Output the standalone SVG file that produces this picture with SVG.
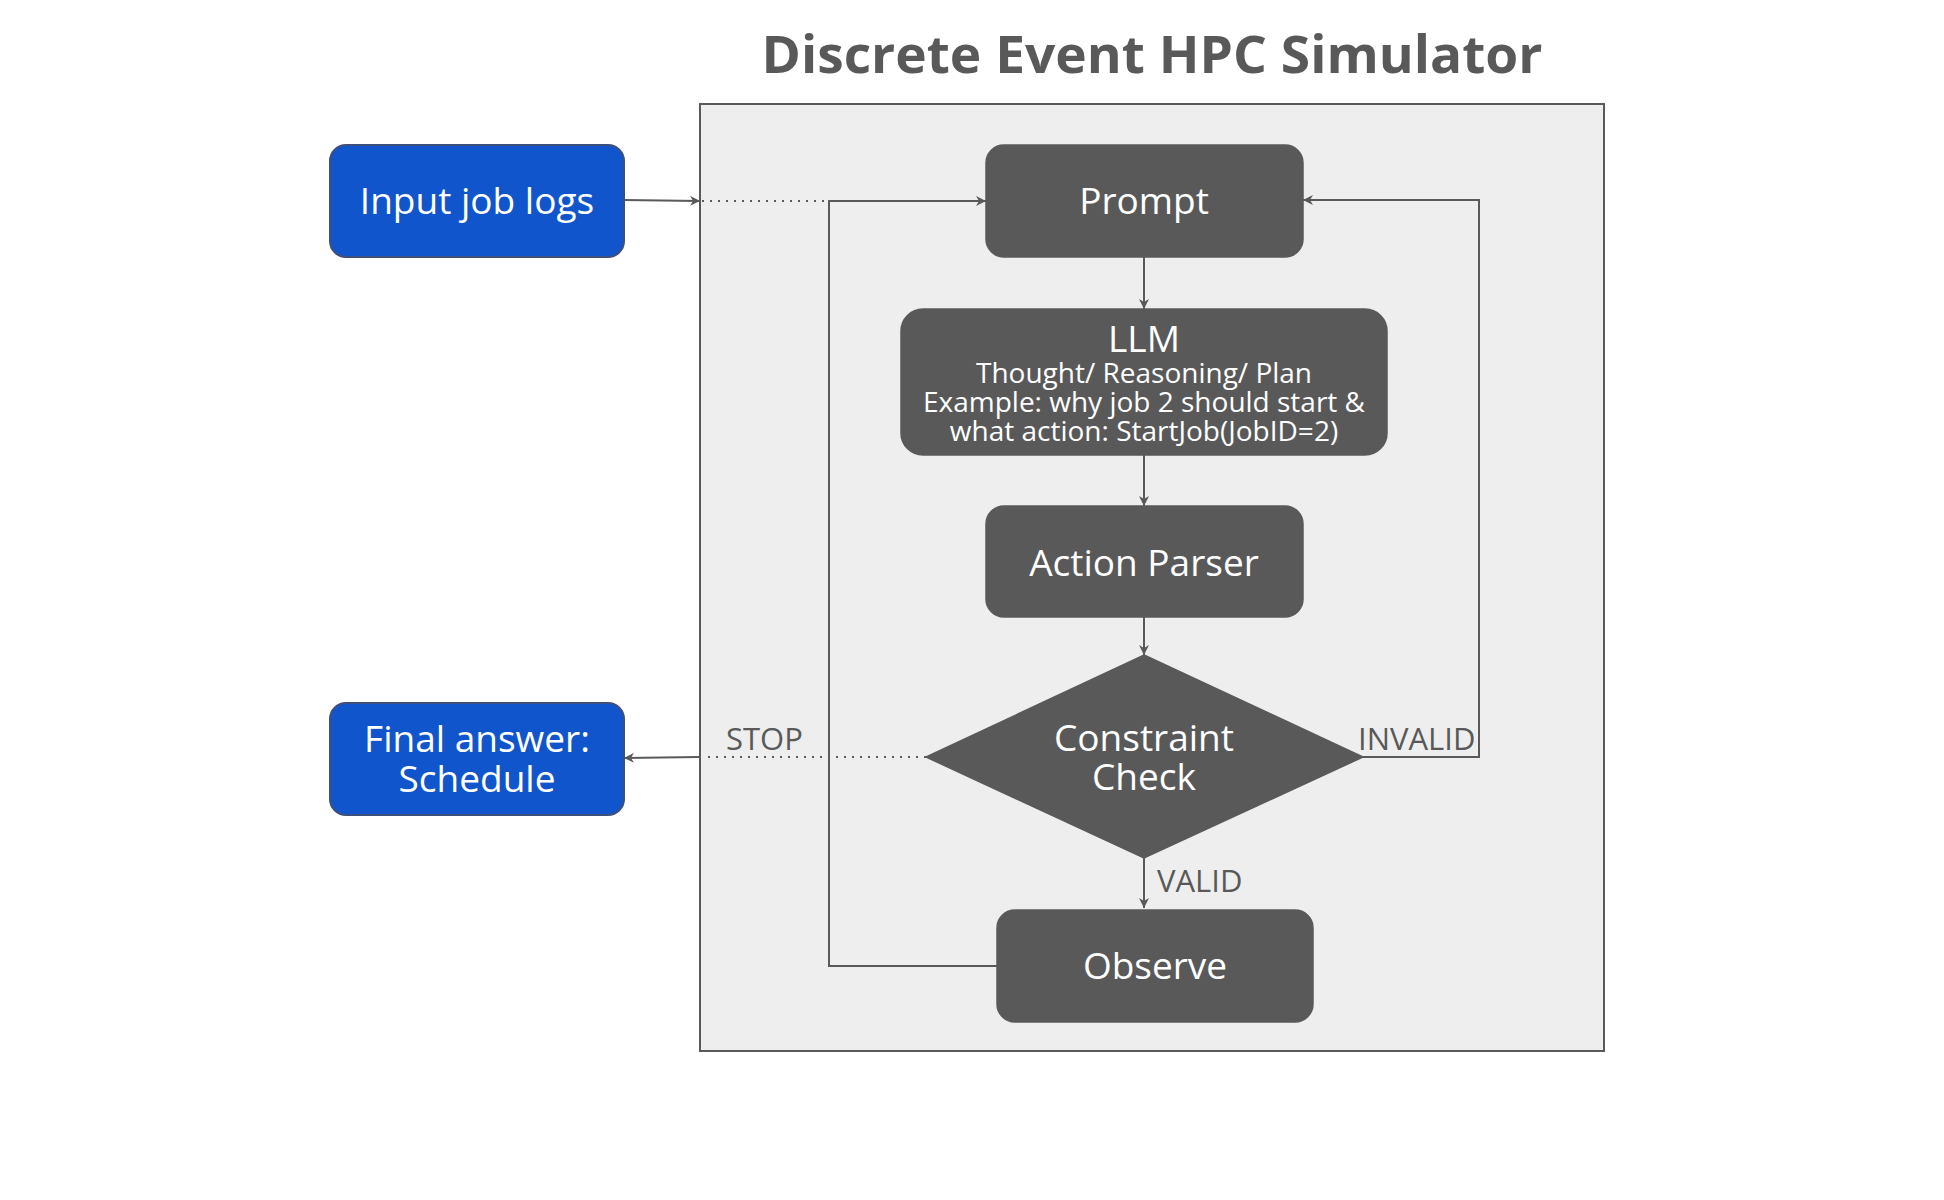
<svg xmlns="http://www.w3.org/2000/svg" width="1944" height="1200" viewBox="0 0 1944 1200">
<style>
.t{font-family:"Open Sans","Liberation Sans",sans-serif;text-anchor:middle;dominant-baseline:central}
.w{fill:#ffffff}
.g{fill:#595959}
.main{font-size:37px}
.sub{font-size:28px}
.lbl{font-size:31px;fill:#595959;font-family:"Open Sans","Liberation Sans",sans-serif;dominant-baseline:central}
.dark{fill:#595959;stroke:#595959;stroke-width:1.5}
.blue{fill:#1155cc;stroke:#3d4f7a;stroke-width:2}
.ln{fill:none;stroke:#595959;stroke-width:2}
.dot{fill:none;stroke:#595959;stroke-width:2;stroke-dasharray:2 6}
</style>
<defs>
<marker id="ah" viewBox="0 0 10 10" refX="10" refY="5" markerWidth="10" markerHeight="10" markerUnits="userSpaceOnUse" orient="auto">
<path d="M0,0 L10,5 L0,10 L3,5 Z" fill="#595959"/>
</marker>
</defs>
<rect width="1944" height="1200" fill="#ffffff"/>
<text class="t g" x="1152" y="52" font-size="52" font-weight="bold" textLength="781" lengthAdjust="spacingAndGlyphs">Discrete Event HPC Simulator</text>
<g id="container">
<rect x="700" y="104" width="904" height="947" fill="#eeeeee" stroke="#595959" stroke-width="2"/>
</g>
<g id="connectors">
<path class="ln" d="M624,200 L700,201" marker-end="url(#ah)"/>
<path class="dot" d="M702,201 L984,201"/>
<path class="ln" d="M997,966 L829,966 L829,201 L986,201" marker-end="url(#ah)"/>
<path class="ln" d="M1144,257 L1144,309" marker-end="url(#ah)"/>
<path class="ln" d="M1144,455 L1144,506" marker-end="url(#ah)"/>
<path class="ln" d="M1144,617 L1144,655" marker-end="url(#ah)"/>
<path class="ln" d="M1144,858 L1144,908" marker-end="url(#ah)"/>
<path class="ln" d="M1363,757 L1479,757 L1479,200 L1303,200" marker-end="url(#ah)"/>
<path class="dot" d="M926,757 L702,757"/>
<path class="ln" d="M700,757 L624,758" marker-end="url(#ah)"/>
<text class="lbl" x="726" y="738">STOP</text>
<text class="lbl" x="1358" y="738">INVALID</text>
<text class="lbl" x="1157" y="880">VALID</text>
</g>
<g id="input">
<rect class="blue" x="330" y="145" width="294" height="112" rx="16"/>
<text class="t w main" x="477" y="199">Input job logs</text>
</g>
<g id="final">
<rect class="blue" x="330" y="703" width="294" height="112" rx="16"/>
<text class="t w main"><tspan x="477" y="737">Final answer:</tspan><tspan x="477" y="777">Schedule</tspan></text>
</g>
<g id="prompt">
<rect class="dark" x="986" y="145" width="317" height="112" rx="18"/>
<text class="t w main" x="1144" y="199">Prompt</text>
</g>
<g id="llm">
<rect class="dark" x="901" y="309" width="486" height="146" rx="22"/>
<text class="t w"><tspan class="main" x="1144" y="337">LLM</tspan><tspan class="sub" x="1144" y="372">Thought/ Reasoning/ Plan</tspan><tspan class="sub" x="1144" y="401">Example: why job 2 should start &amp;</tspan><tspan class="sub" x="1144" y="430">what action: StartJob(JobID=2)</tspan></text>
</g>
<g id="parser">
<rect class="dark" x="986" y="506" width="317" height="111" rx="18"/>
<text class="t w main" x="1144" y="561">Action Parser</text>
</g>
<g id="check">
<polygon class="dark" points="1144,655 1363,757 1144,858 926,757"/>
<text class="t w main"><tspan x="1144" y="736">Constraint</tspan><tspan x="1144" y="775">Check</tspan></text>
</g>
<g id="observe">
<rect class="dark" x="997" y="910" width="316" height="112" rx="18"/>
<text class="t w main" x="1155" y="964">Observe</text>
</g>
</svg>
